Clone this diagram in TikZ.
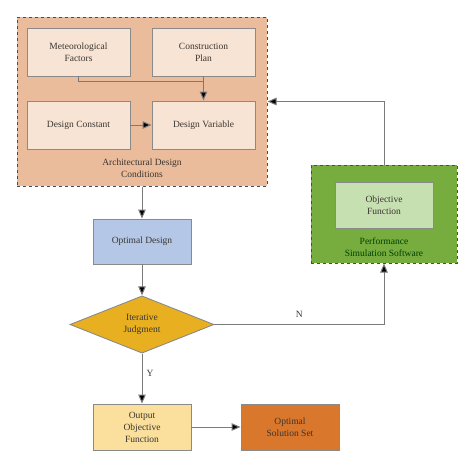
\documentclass[tikz,border=0pt]{standalone}
\usepackage{fontspec}
\setmainfont{Liberation Serif}
\usetikzlibrary{arrows.meta,shapes.geometric}
\definecolor{peach}{HTML}{EBBC9B}
\definecolor{peachlight}{HTML}{F8E4D4}
\definecolor{bluebox}{HTML}{B4C7E7}
\definecolor{gold}{HTML}{E8B020}
\definecolor{paleyellow}{HTML}{FAE09C}
\definecolor{burnt}{HTML}{D9772C}
\definecolor{grass}{HTML}{77AC3E}
\definecolor{palegreen}{HTML}{C7E0B2}
\definecolor{txt}{HTML}{3A3530}
\definecolor{edge}{HTML}{8A8A8A}
\definecolor{lin}{HTML}{7A7A7A}
\begin{document}
\begin{tikzpicture}[x=1pt,y=-1pt,
  every node/.style={font=\fontsize{9.5}{12}\selectfont, text=txt, align=center},
  box/.style={draw=edge, line width=0.9pt, rectangle, inner sep=2pt},
  inbox/.style={box, fill=peachlight, minimum width=103pt, minimum height=48pt},
  dashbox/.style={rectangle, dashed, line width=1pt, draw=black!70, inner sep=0pt},
  lbl/.style={inner sep=0pt},
  line/.style={draw=lin, line width=1pt},
  conn/.style={line, -{Triangle[length=9pt,width=7.5pt,fill=black]}},
]
\useasboundingbox (0,0) rectangle (474,467);

% Architectural design conditions group
\node[dashbox, fill=peach, minimum width=250pt, minimum height=169pt] (adc) at (142,101.5) {};
\node[inbox] (met) at (78.5,52) {Meteorological\\Factors};
\node[inbox] (cp) at (203.5,52) {Construction\\Plan};
\node[inbox] (dc) at (78.5,125) {Design Constant};
\node[inbox] (dv) at (203.5,125) {Design Variable};
\node[lbl] (adcl) at (142,168) {Architectural Design\\Conditions};
\coordinate (jn) at (203.5,81);

% Performance simulation software group
\node[dashbox, fill=grass, minimum width=146pt, minimum height=98pt] (pss) at (384,214) {};
\node[box, fill=palegreen, minimum width=98pt, minimum height=46pt] (of) at (384,205) {Objective\\Function};
\node[lbl, text=black!75!green] (pssl) at (384,247.5) {Performance\\Simulation Software};

% Main flow
\node[box, fill=bluebox, minimum width=98pt, minimum height=45pt] (od) at (142,241.5) {Optimal Design};
\node[diamond, draw=edge, line width=0.9pt, fill=gold, minimum width=144pt, minimum height=53pt, inner sep=0pt] (ij) at (142,324.5) {Iterative\\Judgment};
\node[box, fill=paleyellow, minimum width=98pt, minimum height=46pt] (out) at (142,427) {Output\\Objective\\Function};
\node[box, fill=burnt, minimum width=98pt, minimum height=46pt] (oss) at (290,427) {Optimal\\Solution Set};

% Connectors
\draw[line] (met.south) |- (jn);
\draw[conn] (cp.south) -- (dv.north);
\draw[conn] (dc.east) -- (dv.west);
\draw[conn] (pss.north) |- (adc.east);
\draw[conn] (adc.south) -- (od.north);
\draw[conn] (od.south) -- (ij.north);
\draw[conn] (ij.south) -- node[pos=0.4, right=4pt, lbl] (ylab) {Y} (out.north);
\draw[conn] (ij.east) -| node[pos=0.25, above=7pt, lbl] (nlab) {N} (pss.south);
\draw[conn] (out.east) -- (oss.west);
\end{tikzpicture}
\end{document}
